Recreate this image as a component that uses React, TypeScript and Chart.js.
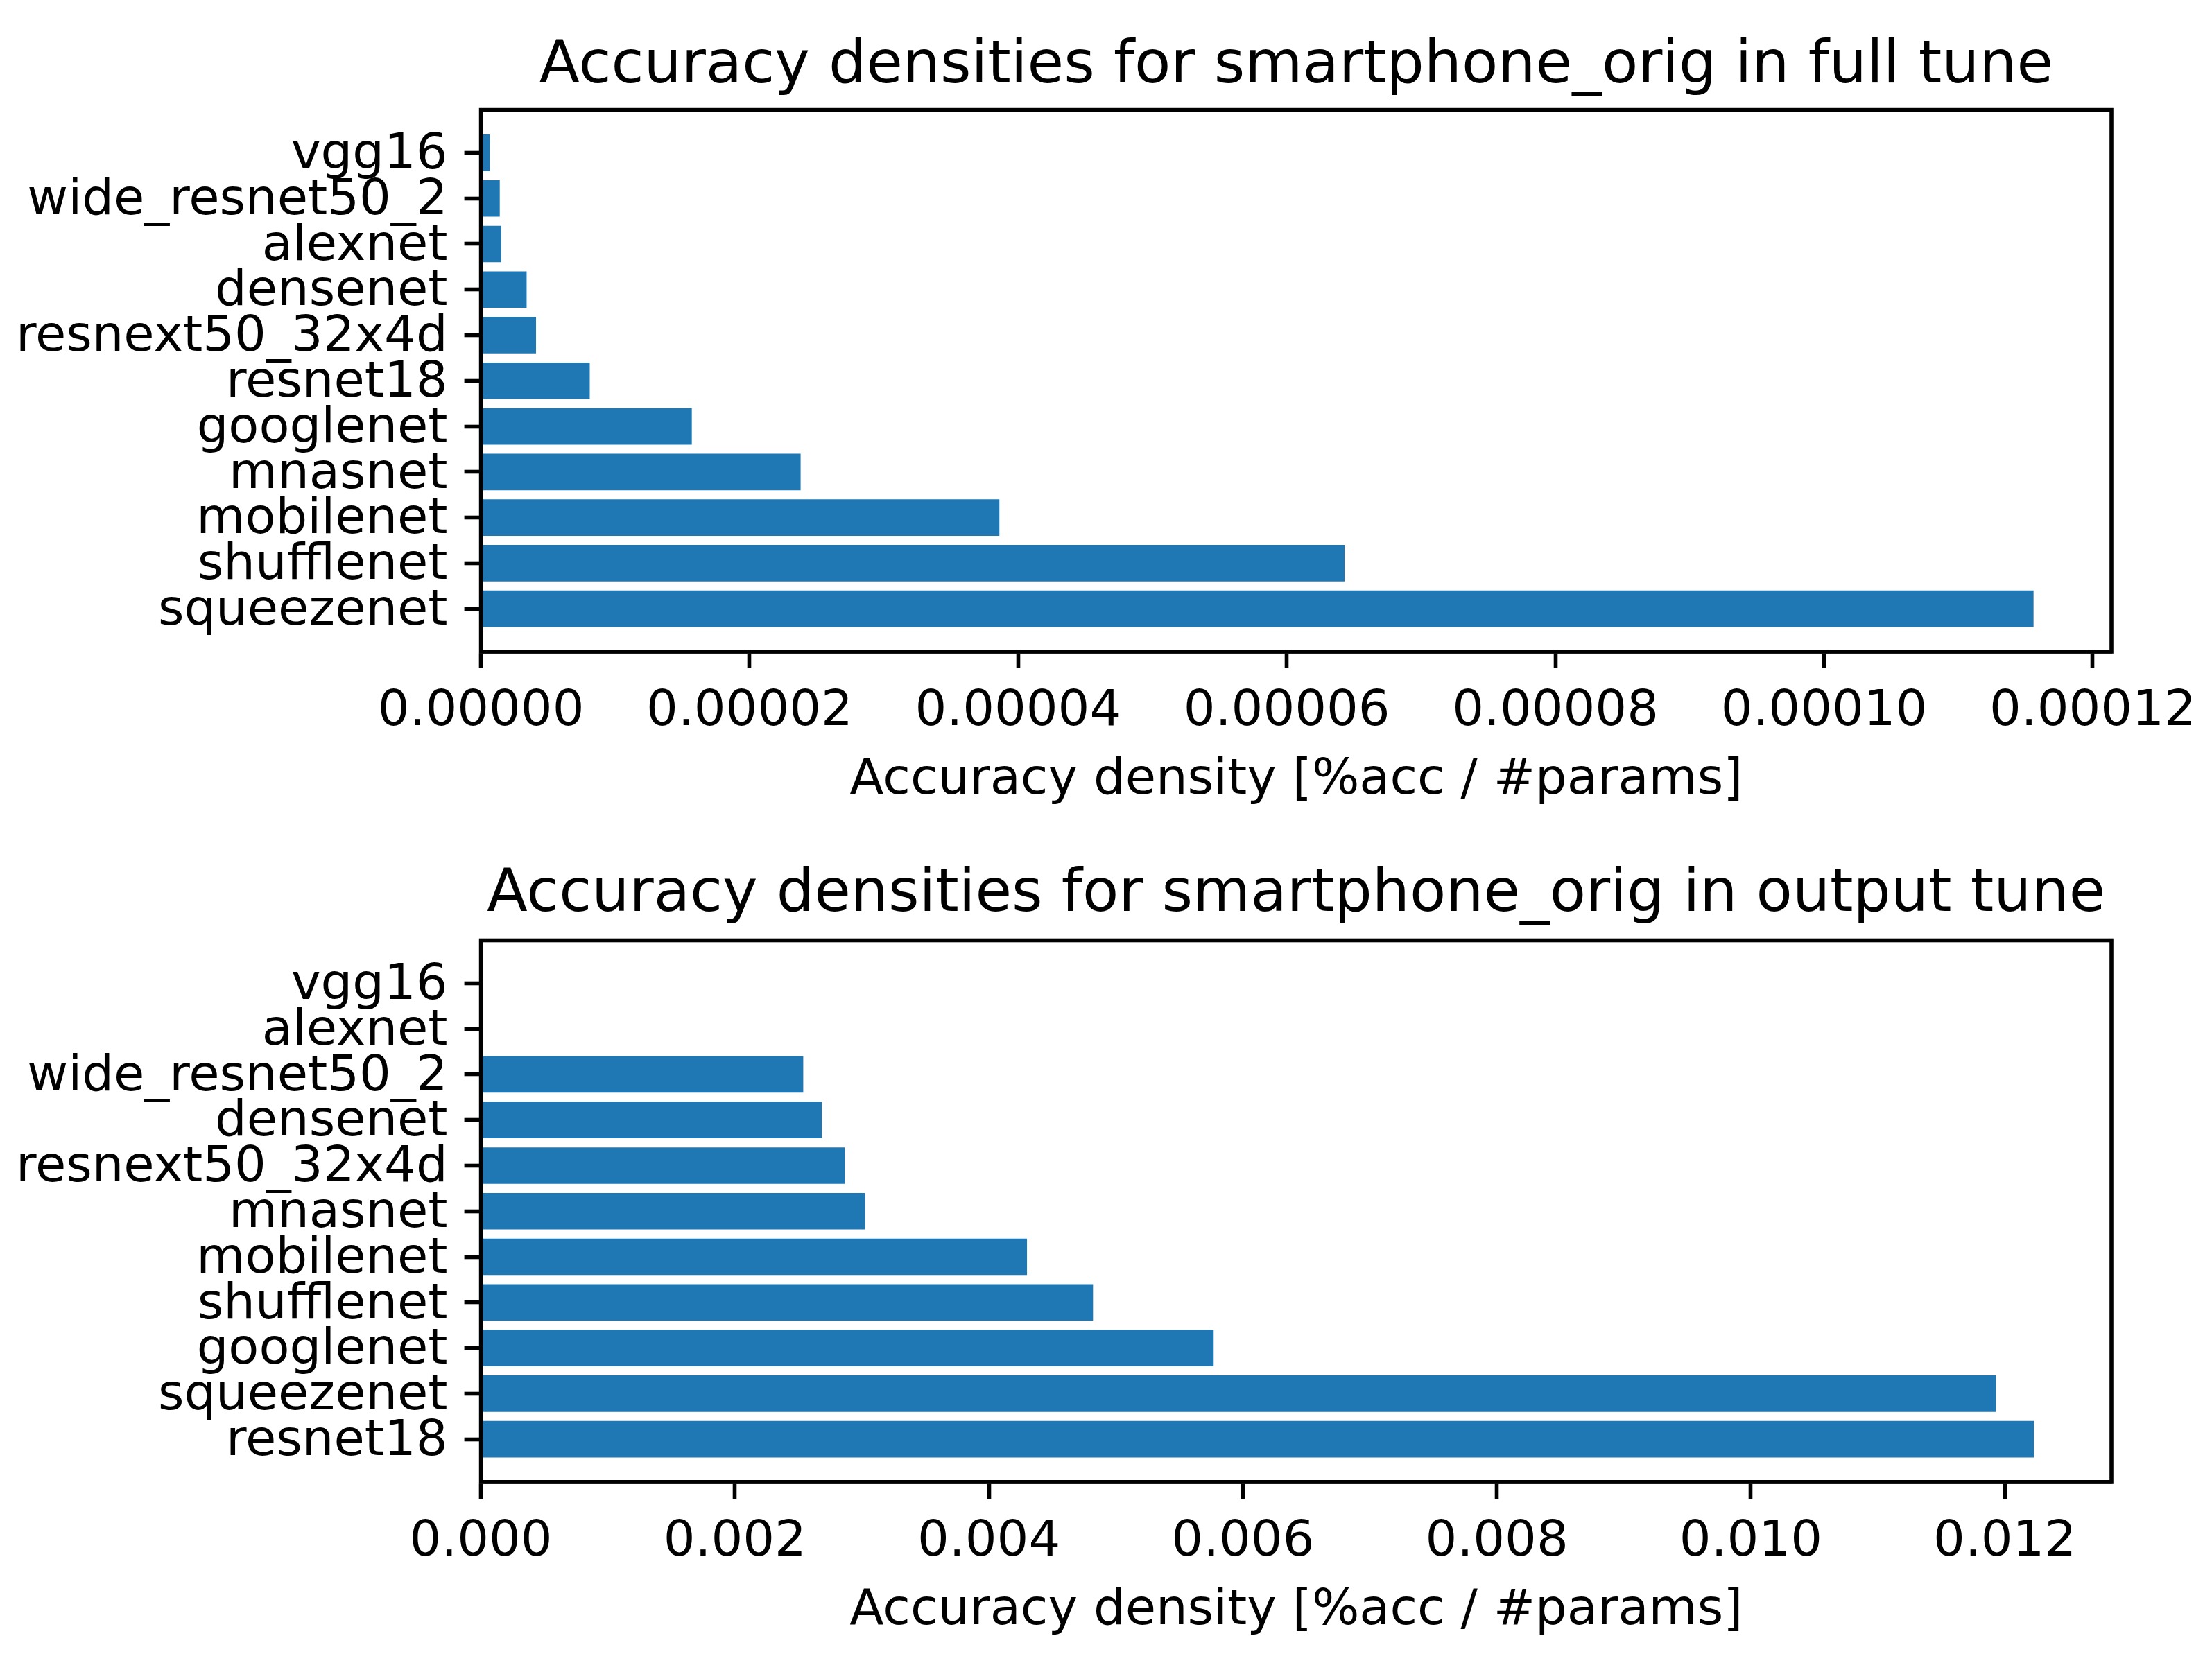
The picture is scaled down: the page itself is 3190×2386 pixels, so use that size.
import React, { useEffect, useRef } from "react";
import { Chart, registerables } from "chart.js";

Chart.register(...registerables);

const FONT = "'DejaVu Sans', 'Liberation Sans', sans-serif";
const BAR_COLOR = "#1f77b4";
const X_LABEL = "Accuracy density [%acc / #params]";

// Top panel: full tune (bottom-to-top order)
const fullTitle = "Accuracy densities for smartphone_orig in full tune";
const fullLabels = [
  "squeezenet",
  "shufflenet",
  "mobilenet",
  "mnasnet",
  "googlenet",
  "resnet18",
  "resnext50_32x4d",
  "densenet",
  "alexnet",
  "wide_resnet50_2",
  "vgg16",
];
const fullValues = [
  0.0001156, 0.0000643, 0.0000386, 0.0000238, 0.0000157, 0.0000081,
  0.0000041, 0.0000034, 0.0000015, 0.0000014, 0.00000066,
];
const fullTicks = [0, 0.00002, 0.00004, 0.00006, 0.00008, 0.0001, 0.00012];
const fullTickLabels = [
  "0.00000",
  "0.00002",
  "0.00004",
  "0.00006",
  "0.00008",
  "0.00010",
  "0.00012",
];
const fullMax = 0.0001214;

// Bottom panel: output tune (bottom-to-top order)
const outTitle = "Accuracy densities for smartphone_orig in output tune";
const outLabels = [
  "resnet18",
  "squeezenet",
  "googlenet",
  "shufflenet",
  "mobilenet",
  "mnasnet",
  "resnext50_32x4d",
  "densenet",
  "wide_resnet50_2",
  "alexnet",
  "vgg16",
];
const outValues = [
  0.01223, 0.01193, 0.00577, 0.00482, 0.0043, 0.003025, 0.002865, 0.002684,
  0.002538, 0, 0,
];
const outTicks = [0, 0.002, 0.004, 0.006, 0.008, 0.01, 0.012];
const outTickLabels = ["0.000", "0.002", "0.004", "0.006", "0.008", "0.010", "0.012"];
const outMax = 0.01284;

const LINE_W = 5.6;
const TICK_FONT = 72;
const TITLE_FONT = 85.5;

const framePlugin = {
  id: "frame",
  afterDraw(chart: any) {
    const { ctx, chartArea } = chart;
    const { left, top, right, bottom } = chartArea;
    ctx.save();
    ctx.strokeStyle = "#000";
    ctx.lineWidth = LINE_W;
    ctx.lineJoin = "miter";
    ctx.strokeRect(left, top, right - left, bottom - top);
    ctx.restore();
  },
};

type PanelProps = {
  title: string;
  labels: string[];
  values: number[];
  ticks: number[];
  tickLabels: string[];
  xMax: number;
  width: number;
  height: number;
  titlePadTop: number;
  titlePadBottom: number;
  xAxisHeight: number;
  xTitlePadBottom: number;
};

function BarPanel(p: PanelProps) {
  const ref = useRef<HTMLCanvasElement | null>(null);
  useEffect(() => {
    if (!ref.current) return;
    const chart = new Chart(ref.current, {
      type: "bar",
      data: {
        datasets: [
          {
            data: p.values.map((v, i) => ({ x: v, y: i })) as any,
            backgroundColor: BAR_COLOR,
            borderWidth: 0,
            barPercentage: 0.8,
            categoryPercentage: 1,
          },
        ],
      },
      options: {
        indexAxis: "y",
        responsive: false,
        animation: false,
        devicePixelRatio: 1,
        layout: { padding: { left: 0, right: 145, top: 0, bottom: 0 } },
        plugins: {
          legend: { display: false },
          tooltip: { enabled: false },
          title: {
            display: true,
            text: p.title,
            fullSize: false,
            color: "#000",
            font: { family: FONT, size: TITLE_FONT, weight: "normal", lineHeight: 1.2 },
            padding: { top: p.titlePadTop, bottom: p.titlePadBottom },
          },
        },
        scales: {
          x: {
            type: "linear",
            min: 0,
            max: p.xMax,
            offset: false,
            afterBuildTicks: (s: any) => {
              s.ticks = p.ticks.map((v) => ({ value: v }));
            },
            afterFit: (s: any) => {
              s.height = p.xAxisHeight;
            },
            ticks: {
              callback: (_v: any, i: number) => p.tickLabels[i],
              color: "#000",
              font: { family: FONT, size: TICK_FONT },
              padding: 20,
              maxRotation: 0,
              autoSkip: false,
            },
            grid: {
              offset: false,
              drawOnChartArea: false,
              drawTicks: true,
              tickLength: 24,
              tickWidth: LINE_W,
              tickColor: "#000",
            },
            border: { display: true, color: "#000", width: LINE_W },
            title: {
              display: true,
              text: X_LABEL,
              color: "#000",
              font: { family: FONT, size: TICK_FONT, lineHeight: 1.2 },
              padding: { top: 0, bottom: p.xTitlePadBottom },
            },
          },
          y: {
            type: "linear",
            min: -0.94,
            max: 10.94,
            offset: false,
            afterBuildTicks: (s: any) => {
              s.ticks = p.labels.map((_l, i) => ({ value: i }));
            },
            afterFit: (s: any) => {
              s.width = 693.6;
            },
            ticks: {
              callback: (_v: any, i: number) => p.labels[i],
              color: "#000",
              font: { family: FONT, size: TICK_FONT },
              padding: 24,
              labelOffset: 4,
              autoSkip: false,
            },
            grid: {
              offset: false,
              drawOnChartArea: false,
              drawTicks: true,
              tickLength: 24,
              tickWidth: LINE_W,
              tickColor: "#000",
            },
            border: { display: true, color: "#000", width: LINE_W },
          },
        },
      } as any,
      plugins: [framePlugin],
    });
    return () => chart.destroy();
  }, []);
  return (
    <canvas
      ref={ref}
      width={p.width}
      height={p.height}
      style={{ display: "block", width: p.width, height: p.height }}
    />
  );
}

export default function App() {
  return (
    <div
      style={{
        position: "absolute",
        left: 0,
        top: 0,
        width: 3190,
        height: 2386,
        background: "#fff",
      }}
    >
      <BarPanel
        title={fullTitle}
        labels={fullLabels}
        values={fullValues}
        ticks={fullTicks}
        tickLabels={fullTickLabels}
        xMax={fullMax}
        width={3190}
        height={1193}
        titlePadTop={45}
        titlePadBottom={11}
        xAxisHeight={253}
        xTitlePadBottom={24}
      />
      <BarPanel
        title={outTitle}
        labels={outLabels}
        values={outValues}
        ticks={outTicks}
        tickLabels={outTickLabels}
        xMax={outMax}
        width={3190}
        height={1193}
        titlePadTop={47.6}
        titlePadBottom={13.3}
        xAxisHeight={248}
        xTitlePadBottom={19}
      />
    </div>
  );
}
